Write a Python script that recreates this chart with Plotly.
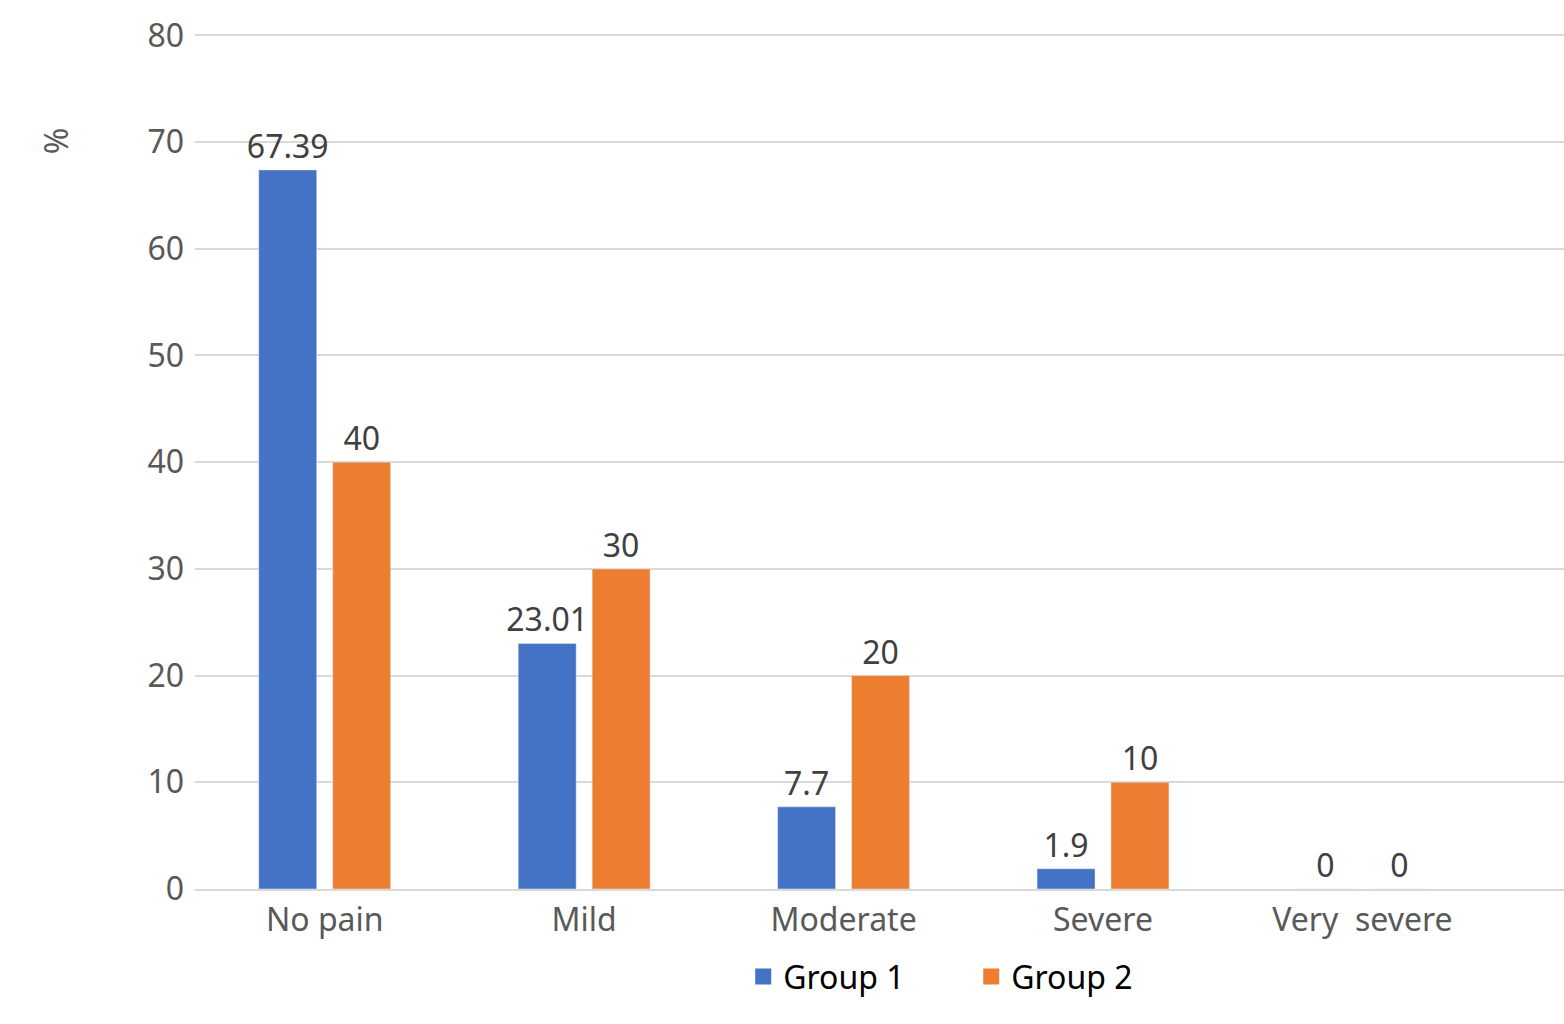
import plotly.graph_objects as go

# pain categories and percent per group
categories = ['No pain', 'Mild', 'Moderate', 'Severe', 'Very\u00a0 severe']
group1 = [67.39, 23.01, 7.7, 1.9, 0]
group2 = [40, 30, 20, 10, 0]
names = ['Group 1', 'Group 2']
colors = ['#4472C4', '#ED7D31']

FONT = 'Noto Sans'

fig = go.Figure()
for vals, name, col in zip([group1, group2], names, colors):
    fig.add_trace(go.Bar(x=categories, y=vals, name=name, marker_color=col, showlegend=False,
                         text=[str(v) for v in vals], textposition='outside', cliponaxis=False,
                         constraintext='none',
                         textfont=dict(size=32, color='#404040', family=FONT)))
# legend entries with bigger square swatches
for name, col in zip(names, colors):
    fig.add_trace(go.Scatter(x=[None], y=[None], mode='markers', name=name,
                             marker=dict(symbol='square', size=22, color=col)))

fig.update_layout(
    width=1564, height=1024,
    margin=dict(l=195, r=0, t=30, b=135),
    plot_bgcolor='white', paper_bgcolor='white',
    barmode='group', bargap=0.43, bargroupgap=0.216,
    font=dict(family=FONT, size=32, color='#595959'),
    legend=dict(orientation='h', x=0.567, xanchor='center', y=-0.102, yanchor='middle',
                font=dict(size=32, color='#000000'), entrywidth=183, itemsizing='trace'),
)
fig.update_yaxes(range=[0, 80.5], tickvals=list(range(0, 81, 10)), showgrid=True,
                 gridcolor='#D9D9D9', gridwidth=2, zeroline=False, showline=False, ticks='',
                 ticklabelstandoff=10, tickfont=dict(size=32, color='#595959'))
fig.update_xaxes(range=[-0.5, 4.777], showline=True, linecolor='#D9D9D9', linewidth=2,
                 ticks='', ticklabelstandoff=2, tickfont=dict(size=32, color='#595959'))
fig.add_annotation(text='%', x=-0.102, y=0.871, xref='paper', yref='paper', showarrow=False,
                   xanchor='center', yanchor='middle', textangle=-90,
                   font=dict(size=32, color='#595959'))

fig.write_html("out.html", config={'displayModeBar': False},
               post_script="document.body.style.margin='0';")
